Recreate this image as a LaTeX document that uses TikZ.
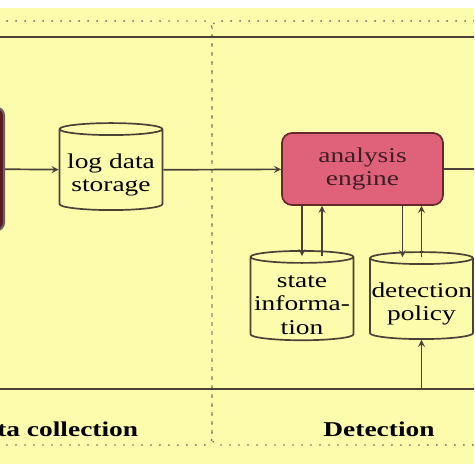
\documentclass[tikz,border=0pt]{standalone}
\usepackage{fontspec}
\setmainfont{Liberation Serif}[FakeStretch=1.3]
\usetikzlibrary{shapes.geometric}
\definecolor{paper}{RGB}{253,251,172}
\definecolor{ink}{RGB}{74,66,56}
\definecolor{engred}{RGB}{224,98,122}
\definecolor{engline}{RGB}{100,40,45}
\definecolor{engtext}{RGB}{60,30,35}
\definecolor{srcred}{RGB}{92,24,36}
\definecolor{srcline}{RGB}{105,98,88}
\tikzset{
  store/.style={cylinder,shape border rotate=90,aspect=0.12,draw=ink,line width=1.2pt,
    minimum width=25.75mm,minimum height=21.75mm,text width=25mm,align=center,
    inner xsep=0pt,inner ysep=0pt,text height=17pt},
  engbox/.style={rectangle,rounded corners=2.5mm,draw=engline,line width=1.2pt,fill=engred,
    minimum width=40.25mm,minimum height=18mm,align=center,text=engtext},
  srcbox/.style={rectangle,rounded corners=2mm,draw=srcline,line width=1.5pt,fill=srcred,
    minimum width=15mm,minimum height=30.75mm},
  flow/.style={draw=ink,line width=1.2pt},
  dots/.style={draw=ink!80,line width=1.3pt,line cap=round,dash pattern=on 0pt off 6.4pt,rounded corners=1.75mm},
  part/.style={font=\fontsize{15}{16.5}\selectfont\bfseries,anchor=base},
}
\begin{document}
\begin{tikzpicture}[x=0.25mm,y=-0.25mm,line join=round,>=stealth,font=\fontsize{15}{16.5}\selectfont]
	\clip (0,0) rectangle (474,474);
	\fill[white] (0,0) rectangle (474,474);
	\fill[paper] (0,8) rectangle (474,464);
	% the two parts
	\draw[dots] (-20,21) rectangle (212,445);
	\draw[dots] (212,21) rectangle (494,445);
	\draw[flow] (-20,37) rectangle (494,389);
	\path
	(0,389) coordinate (B)
	(480,169) coordinate (out);
	% boxes
	\node[srcbox] (src) at (-26,169) {};
	\node[store] (logdata) at (111,170) {log data\\storage};
	\node[engbox] (engine) at (362.5,169) {analysis\\engine};
	\node[store] (state) at (302,299) {state\\informa-\\tion};
	\node[store] (policy) at (421.5,299) {detection\\policy};
	\path
	([xshift=5mm]state.north) coordinate (stup)
	([xshift=-4.75mm]policy.north) coordinate (podn);
	% flows
	\draw[flow,->] (src) -- (logdata);
	\draw[flow,->] (logdata) -- (engine);
	\draw[flow] (engine) -- (out);
	\draw[flow,->] (engine.south -| state.north) -- ([yshift=-1.5mm]state.north);
	\draw[flow,->] ([yshift=-1.5mm]stup) -- (stup |- engine.south);
	\draw[flow,->] (engine.south -| podn) -- ([yshift=-1.5mm]podn);
	\draw[flow,->] ([yshift=-1.5mm]policy.north) -- (policy.north |- engine.south);
	\draw[flow,->] (policy.south |- B) -- (policy.south);
	% labels
	\node[part] (dc) at (51,436) {Data collection};
	\node[part] (det) at (379,436) {Detection};
\end{tikzpicture}
\end{document}
